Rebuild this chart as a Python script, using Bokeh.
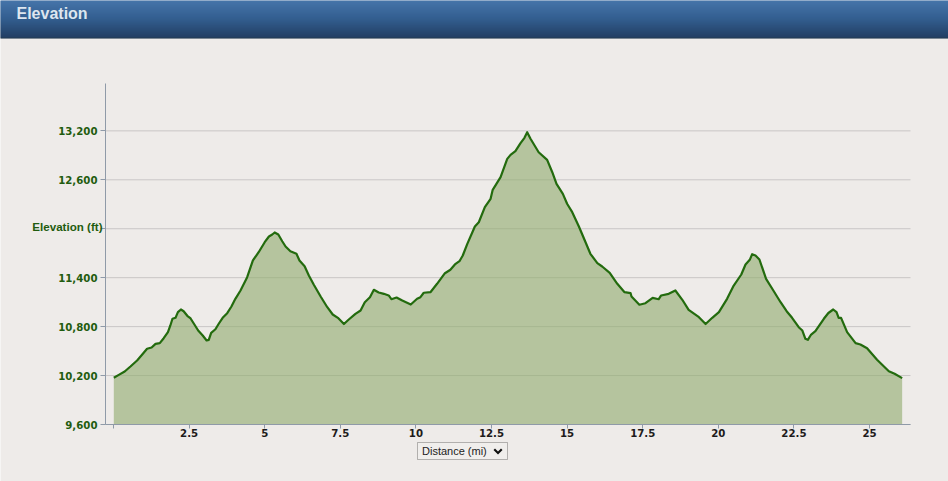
from bokeh.plotting import figure
from bokeh.models import BoxAnnotation, Label, PolyAnnotation, FixedTicker, Range1d
from bokeh.embed import file_html
from bokeh.resources import INLINE

title = "Elevation"
x_title = "Distance (mi)"
y_title = "Elevation (ft)"

distance_mi = [0.01,0.175,0.37,0.56,0.78,0.95,1.11,1.26,1.39,1.53,1.66,1.80,1.88,1.95,2.05,2.13,2.23,2.32,2.44,2.55,
 2.66,2.80,2.95,3.08,3.15,3.23,3.37,3.48,3.61,3.76,3.90,4.03,4.20,4.42,4.61,4.80,5.00,5.14,5.25,5.33,
 5.45,5.58,5.69,5.85,6.05,6.15,6.32,6.46,6.62,6.85,7.07,7.25,7.42,7.62,7.78,8.00,8.17,8.31,8.48,8.61,
 8.77,8.94,9.10,9.19,9.36,9.55,9.83,10.04,10.15,10.26,10.48,10.70,10.96,11.14,11.29,11.44,11.55,11.70,11.95,12.08,
 12.28,12.47,12.54,12.80,13.02,13.13,13.29,13.46,13.59,13.68,13.79,14.06,14.34,14.51,14.65,14.86,15.00,15.17,15.39,15.61,
 15.77,16.00,16.16,16.41,16.66,16.90,17.10,17.13,17.39,17.59,17.83,18.03,18.11,18.36,18.58,18.81,19.02,19.36,19.58,19.80,
 20.02,20.29,20.51,20.76,20.90,21.04,21.12,21.23,21.36,21.58,21.82,22.06,22.26,22.44,22.66,22.78,22.88,22.96,23.07,23.21,
 23.49,23.64,23.80,23.91,23.98,24.06,24.26,24.54,24.70,24.92,25.25,25.64,25.83,26.08]
elevation_ft = [10173,10209,10250,10311,10385,10458,10528,10544,10589,10597,10658,10732,10814,10896,10908,10977,11010,10989,10933,10900,
 10835,10752,10691,10630,10638,10724,10768,10835,10908,10965,11047,11141,11243,11406,11611,11712,11835,11905,11929,11954,
 11929,11847,11782,11725,11693,11611,11541,11427,11316,11169,11038,10949,10908,10832,10887,10957,10998,11099,11161,11251,
 11218,11202,11182,11136,11157,11120,11071,11141,11161,11215,11222,11325,11455,11497,11562,11602,11672,11815,12027,12080,
 12264,12367,12477,12632,12857,12906,12951,13049,13115,13184,13103,12938,12845,12693,12551,12428,12306,12203,12027,11835,
 11693,11578,11537,11460,11325,11222,11210,11169,11068,11087,11153,11136,11182,11202,11243,11129,11006,10916,10832,10908,
 10977,11141,11304,11439,11562,11619,11688,11672,11623,11386,11243,11099,10989,10908,10793,10752,10651,10638,10703,10744,
 10896,10967,11010,10977,10908,10908,10732,10597,10581,10535,10393,10253,10222,10168]

x_ticks = [0, 2.5, 5, 7.5, 10, 12.5, 15, 17.5, 20, 22.5, 25]
x_tick_labels = ["", "2.5", "5", "7.5", "10", "12.5", "15", "17.5", "20", "22.5", "25"]
y_ticks = [9600, 10200, 10800, 11400, 12000, 12600, 13200]
y_tick_labels = ["9,600", "10,200", "10,800", "11,400", "", "12,600", "13,200"]
y_floor = 9600
x_axis_start, x_axis_end = -0.2646, 26.356
y_axis_end = 13781

BG = "#eeebe9"
# The frame fills the whole page, so the header and the drop-down can be drawn on it.
p = figure(width=948, height=481, output_backend="svg", toolbar_location=None,
           x_range=Range1d(-113 / 30.24, 835 / 30.24),
           y_range=Range1d(y_floor - 57 * 12.26, y_floor + 424 * 12.26),
           min_border=0, background_fill_color=BG, border_fill_color=BG, outline_line_color=None)

p.xgrid.visible = False
p.ygrid.visible = False
p.xaxis.fixed_location = y_floor
p.yaxis.fixed_location = x_axis_start
p.xaxis.bounds = (x_axis_start, x_axis_end)
p.yaxis.bounds = (y_floor, y_axis_end)

for ax, ticks, labels, color, out, standoff in ((p.xaxis[0], x_ticks, x_tick_labels, "#1d1a1a", 4, 0),
                                                (p.yaxis[0], y_ticks, y_tick_labels, "#1f5c0f", 5, 3)):
    ax.ticker = FixedTicker(ticks=ticks)
    ax.major_label_overrides = dict(zip(ticks, labels))
    ax.axis_line_color = "#8f9aa8"
    ax.major_tick_line_color = "#8f9aa8"
    ax.minor_tick_line_color = None
    ax.major_tick_in = 0
    ax.major_tick_out = out
    ax.major_label_standoff = standoff
    ax.major_label_text_font = "DejaVu Sans"
    ax.major_label_text_font_style = "bold"
    ax.major_label_text_font_size = "10.2px"
    ax.major_label_text_color = color

p.segment(x0=[x_axis_start] * len(y_ticks), x1=[x_axis_end] * len(y_ticks), y0=y_ticks, y1=y_ticks,
          line_color="#c9c6c6", line_width=1)
p.varea(distance_mi, y1=[y_floor] * len(distance_mi), y2=elevation_ft, fill_color="#92ad6f", fill_alpha=0.62)
p.line(distance_mi, elevation_ft, line_color="#236b0e", line_width=2.2, line_join="round")

def box(l, r, t, b, **kw):
    p.add_layout(BoxAnnotation(left=l, right=r, top=t, bottom=b,
                               left_units="canvas", right_units="canvas", top_units="canvas", bottom_units="canvas",
                               **kw))

def label(x, y, text, **kw):
    p.add_layout(Label(x=x, y=y, x_units="canvas", y_units="canvas", text=text,
                       text_font="Liberation Sans", text_baseline="middle", **kw))

stops = [(46, 100, 160), (24, 74, 130), (6, 40, 82)]
H = 37
for i in range(H):
    t = i / (H - 1) * 2
    a, b = (stops[0], stops[1]) if t < 1 else (stops[1], stops[2])
    f = t if t < 1 else t - 1
    c = tuple(int(a[k] + (b[k] - a[k]) * f) for k in range(3))
    box(-1, 949, i - 1 if i == 0 else i, i + 1.2, fill_color="#%02x%02x%02x" % c, fill_alpha=1, line_color=None)
box(-1, 949, 37, 38, fill_color="#07233f", fill_alpha=1, line_color=None)

label(16, 13, title, text_font_style="bold", text_font_size="16px", text_color="#dde6ef", text_align="left")
label(102, 226, y_title, text_font_style="bold", text_font_size="11.6px", text_color="#1f5c0f", text_align="right")

box(417, 507, 442, 459, fill_color="#f0eeec", fill_alpha=1, line_color="#222222", line_width=1)
label(421.5, 450.5, x_title, text_font_size="11px", text_color="#222222", text_align="left")
p.add_layout(PolyAnnotation(xs=[493, 494.5, 497.5, 500.5, 502, 497.5], ys=[449.5, 448, 451, 448, 449.5, 454],
                            xs_units="canvas", ys_units="canvas",
                            fill_color="#111111", fill_alpha=1, line_color=None))

open("out.html", "w").write(file_html(p, INLINE))
